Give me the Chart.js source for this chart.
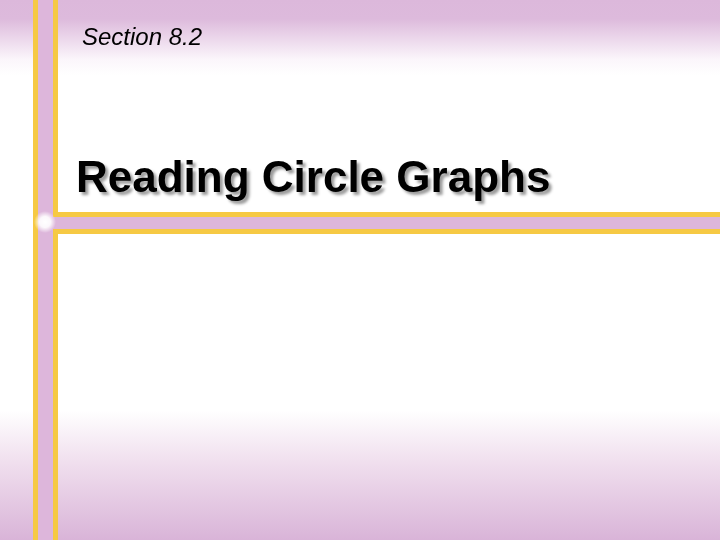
<!DOCTYPE html>
<html>
<head>
<meta charset="utf-8">
<script src="https://cdn.jsdelivr.net/npm/chart.js@4.4.1/dist/chart.umd.min.js"></script>
<style>
  html, body { margin: 0; padding: 0; width: 720px; height: 540px; overflow: hidden; background: #ffffff; }
  #wrap { position: relative; width: 720px; height: 540px; }
  #c { position: absolute; left: 0; top: 0; }
  .txt { position: absolute; white-space: nowrap; font-family: "Liberation Sans", Arial, sans-serif; color: #000; }
  #section { left: 82px; top: 25px; font-size: 24px; line-height: 24px; font-style: italic; }
  #title { left: 76px; top: 155px; font-size: 44px; line-height: 44px; font-weight: bold; text-shadow: 3px 3px 3px rgba(0,0,0,0.4); }
</style>
</head>
<body>
<div id="wrap">
  <canvas id="c" width="720" height="540"></canvas>
  <div class="txt" id="section"></div>
  <div class="txt" id="title"></div>
</div>
<script>
// Slide content (no data series on this title slide)
const sectionLabel = ["Section 8.2"];
const titleText = ["Reading Circle Graphs"];
const categories = [];
const values = [];

document.getElementById('section').textContent = sectionLabel[0];
document.getElementById('title').textContent = titleText[0];

const slideDecor = {
  id: 'slideDecor',
  beforeDraw(chart) {
    const ctx = chart.ctx;
    const W = chart.width, H = chart.height;
    ctx.save();
    // background gradient
    const g = ctx.createLinearGradient(0, 0, 0, H);
    g.addColorStop(0, '#dcb8db');
    g.addColorStop(0.035, '#ddbadc');
    g.addColorStop(0.11, '#fbf6fb');
    g.addColorStop(0.14, '#ffffff');
    g.addColorStop(0.76, '#ffffff');
    g.addColorStop(0.85, '#f1e1ef');
    g.addColorStop(1, '#d9b4d8');
    ctx.fillStyle = g;
    ctx.fillRect(0, 0, W, H);
    const yellow = '#f6c944';
    const pink = '#ddb6db';
    // yellow stripes
    ctx.fillStyle = yellow;
    ctx.fillRect(33, 0, 25, H);
    ctx.fillRect(33, 212, W - 33, 22);
    // pink cores
    ctx.fillStyle = pink;
    ctx.fillRect(38, 0, 15, H);
    ctx.fillRect(38, 217, W - 38, 12);
    // glow
    const rg = ctx.createRadialGradient(45, 222, 0, 45, 222, 11);
    rg.addColorStop(0, 'rgba(255,255,255,1)');
    rg.addColorStop(0.5, 'rgba(255,255,255,0.9)');
    rg.addColorStop(1, 'rgba(255,255,255,0)');
    ctx.fillStyle = rg;
    ctx.beginPath();
    ctx.arc(45, 222, 11, 0, Math.PI * 2);
    ctx.fill();
    ctx.restore();
  }
};

new Chart(document.getElementById('c'), {
  type: 'doughnut',
  data: { labels: categories, datasets: [{ data: values }] },
  options: {
    responsive: false,
    animation: false,
    events: [],
    plugins: { legend: { display: false }, tooltip: { enabled: false }, title: { display: false } }
  },
  plugins: [slideDecor]
});
</script>
</body>
</html>
